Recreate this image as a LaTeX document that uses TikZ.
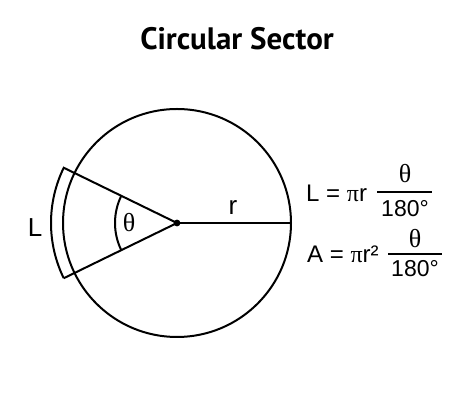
\documentclass[tikz,border=0pt]{standalone}
\usepackage{fontspec}
\setmainfont{Liberation Sans}
\newfontfamily\grfont{Liberation Serif}
\newfontfamily\titlefont{PT Sans}

\begin{document}
\begin{tikzpicture}[x=1pt,y=1pt,
		lbl/.style={inner sep=0pt,font=\fontsize{26}{30}\selectfont},
		eq/.style={inner sep=0pt,anchor=west,font=\fontsize{24}{28}\selectfont},
		den/.style={inner sep=0pt,font=\fontsize{23}{27}\selectfont},
		stroke/.style={line width=2pt,line join=miter}]
		\useasboundingbox (0,0) rectangle (474,414);
		\node [font=\titlefont\bfseries\fontsize{31}{36}\selectfont] (title) at (237,375) {Circular Sector};
		\coordinate (O) at (177,191);
		\coordinate (up) at ([shift={(154:126pt)}]O);
		\coordinate (dn) at ([shift={(206:126pt)}]O);
		\coordinate (R) at ([shift={(0:114pt)}]O);
		\draw [stroke] (O) circle (114pt);
		\draw [stroke] (dn) -- (O) -- (up) arc[start angle=154,end angle=206,radius=126pt];
		\draw [stroke] ([shift={(154:62pt)}]O) arc[start angle=154,end angle=206,radius=62pt];
		\draw [stroke] (O) -- (R);
		\fill (O) circle (3.4pt);
		\node [lbl] (theta) at ([shift={(180:48pt)}]O) {\grfont θ};
		\node [lbl] (rlab) at (233,206) {r};
		\node [lbl] (Llab) at (35,186) {L};
		\node [eq] (Leq) at (306,221) {L = {\grfont π}r};
		\node [lbl] (Lnum) at (405,240) {\grfont θ};
		\node [den] (Lden) at (405,205) {180°};
		\draw [line width=1.5pt] (377,222) -- (432,222);
		\node [eq] (Aeq) at (307,160) {A = {\grfont π}r²};
		\node [lbl] (Anum) at (415,175) {\grfont θ};
		\node [den] (Aden) at (415,145) {180°};
		\draw [line width=1.5pt] (388,160) -- (442,160);
	\end{tikzpicture}
\end{document}
